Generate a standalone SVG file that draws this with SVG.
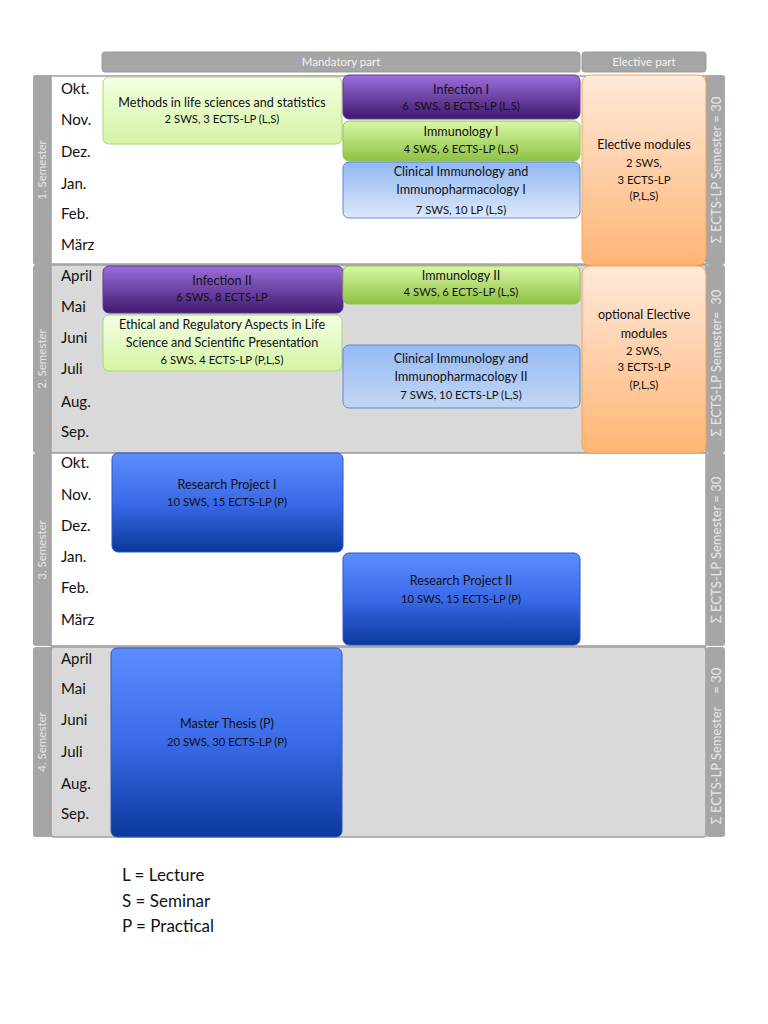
<svg xmlns="http://www.w3.org/2000/svg" width="768" height="1024" viewBox="0 0 768 1024">
<style>
.tab{fill:#a6a6a6;}
.hdr{fill:#a6a6a6;stroke:#999;stroke-width:1;}
.hdrt{font-family:Lato,"Liberation Sans",sans-serif;font-size:11.5px;fill:#f2f2f2;text-anchor:middle;}
.tabt{font-family:Lato,"Liberation Sans",sans-serif;font-size:11.5px;fill:#e6e6e6;text-anchor:middle;}
.tabr{font-family:Lato,"Liberation Sans",sans-serif;font-size:13px;fill:#e6e6e6;text-anchor:middle;}
.mon{font-family:Lato,"Liberation Sans",sans-serif;font-size:15px;fill:#111;}
.bt{font-family:Lato,"Liberation Sans",sans-serif;font-size:12.6px;fill:#111;text-anchor:middle;}
.bs{font-family:Lato,"Liberation Sans",sans-serif;font-size:11.3px;fill:#111;text-anchor:middle;}
.wt{fill:#fff;stroke:#a0a0a0;stroke-width:1.5;}
.gr{fill:#d9d9d9;stroke:#a0a0a0;stroke-width:1.5;}
.lg{font-family:Lato,"Liberation Sans",sans-serif;font-size:17px;fill:#111;}
</style>
<defs>
<linearGradient id="purple" x1="0" y1="0" x2="0" y2="1"><stop offset="0" stop-color="#9b6fdc"/><stop offset="1" stop-color="#40186e"/></linearGradient>
<linearGradient id="green" x1="0" y1="0" x2="0" y2="1"><stop offset="0" stop-color="#d8f7a6"/><stop offset="1" stop-color="#8fc242"/></linearGradient>
<linearGradient id="lgreen" x1="0" y1="0" x2="0" y2="1"><stop offset="0" stop-color="#f4ffe2"/><stop offset="1" stop-color="#d4f4a4"/></linearGradient>
<linearGradient id="lblue" x1="0" y1="0" x2="0" y2="1"><stop offset="0" stop-color="#92b7f2"/><stop offset="1" stop-color="#dde8fa"/></linearGradient>
<linearGradient id="lblue2" x1="0" y1="0" x2="0" y2="1"><stop offset="0" stop-color="#95baf5"/><stop offset="1" stop-color="#c3d6f3"/></linearGradient>
<linearGradient id="blue" x1="0" y1="0" x2="0" y2="1"><stop offset="0" stop-color="#5b8dff"/><stop offset="0.5" stop-color="#3a6ae8"/><stop offset="1" stop-color="#0a389c"/></linearGradient>
<linearGradient id="orange" x1="0" y1="0" x2="0" y2="1"><stop offset="0" stop-color="#ffe9da"/><stop offset="1" stop-color="#ffb574"/></linearGradient>
</defs>

<g id="header">
<rect class="hdr" x="102" y="52" width="478" height="20" rx="3"/>
<text class="hdrt" x="341" y="66">Mandatory part</text>
<rect class="hdr" x="582" y="52" width="124" height="20" rx="3"/>
<text class="hdrt" x="644" y="66">Elective part</text>
</g>

<g id="semester1">
<rect class="tab" x="33" y="75" width="20" height="190" rx="3"/>
<rect class="wt" x="51" y="76" width="655" height="188"/>
<rect class="tab" x="706" y="75" width="19" height="190" rx="3"/>
<text class="tabt" transform="translate(46,170) rotate(-90)">1. Semester</text>
<text class="tabr" transform="translate(720.5,170) rotate(-90)">Σ ECTS-LP Semester = 30</text>
<text class="mon" x="61" y="94">Okt.</text>
<text class="mon" x="61" y="125">Nov.</text>
<text class="mon" x="61" y="157">Dez.</text>
<text class="mon" x="61" y="189">Jan.</text>
<text class="mon" x="61" y="219">Feb.</text>
<text class="mon" x="61" y="250">März</text>
</g>

<g id="semester2">
<rect class="tab" x="33" y="265" width="20" height="188" rx="3"/>
<rect class="gr" x="51" y="265" width="655" height="188"/>
<rect class="tab" x="706" y="265" width="19" height="188" rx="3"/>
<text class="tabt" transform="translate(46,359) rotate(-90)">2. Semester</text>
<text class="tabr" transform="translate(720.5,363) rotate(-90)" xml:space="preserve">Σ ECTS-LP Semester=  30</text>
<text class="mon" x="61" y="281">April</text>
<text class="mon" x="61" y="312">Mai</text>
<text class="mon" x="61" y="343">Juni</text>
<text class="mon" x="61" y="374">Juli</text>
<text class="mon" x="61" y="407">Aug.</text>
<text class="mon" x="61" y="437">Sep.</text>
</g>

<g id="semester3">
<rect class="tab" x="33" y="453" width="20" height="193" rx="3"/>
<rect class="wt" x="51" y="453" width="655" height="193"/>
<rect class="tab" x="706" y="453" width="19" height="193" rx="3"/>
<text class="tabt" transform="translate(46,550) rotate(-90)">3. Semester</text>
<text class="tabr" transform="translate(720.5,550) rotate(-90)">Σ ECTS-LP Semester = 30</text>
<text class="mon" x="61" y="468">Okt.</text>
<text class="mon" x="61" y="500">Nov.</text>
<text class="mon" x="61" y="531">Dez.</text>
<text class="mon" x="61" y="562">Jan.</text>
<text class="mon" x="61" y="593">Feb.</text>
<text class="mon" x="61" y="625">März</text>
</g>

<g id="semester4">
<rect class="tab" x="33" y="647" width="20" height="190" rx="3"/>
<rect class="gr" x="51" y="647" width="655" height="190" rx="3"/>
<rect class="tab" x="706" y="647" width="19" height="190" rx="3"/>
<text class="tabt" transform="translate(46,742) rotate(-90)">4. Semester</text>
<text class="tabr" transform="translate(720.5,746) rotate(-90)" xml:space="preserve">Σ ECTS-LP Semester    = 30</text>
<text class="mon" x="61" y="664">April</text>
<text class="mon" x="61" y="694">Mai</text>
<text class="mon" x="61" y="725">Juni</text>
<text class="mon" x="61" y="757">Juli</text>
<text class="mon" x="61" y="789">Aug.</text>
<text class="mon" x="61" y="819">Sep.</text>
</g>

<g id="methods">
<rect x="103" y="77" width="239" height="67" rx="6" fill="url(#lgreen)" stroke="#a6d876"/>
<text class="bt" x="222" y="107">Methods in life sciences and statistics</text>
<text class="bs" x="222" y="123">2 SWS, 3 ECTS-LP (L,S)</text>
</g>
<g id="infection1">
<rect x="343" y="75" width="237" height="44" rx="6" fill="url(#purple)" stroke="#5a3a90"/>
<text class="bt" x="461" y="94">Infection I</text>
<text class="bs" x="461" y="110" xml:space="preserve">6  SWS, 8 ECTS-LP (L,S)</text>
</g>
<g id="immunology1">
<rect x="343" y="121" width="237" height="40" rx="6" fill="url(#green)" stroke="#92c452"/>
<text class="bt" x="461" y="136">Immunology I</text>
<text class="bs" x="461" y="153">4 SWS, 6 ECTS-LP (L,S)</text>
</g>
<g id="clinical1">
<rect x="343" y="162" width="237" height="56" rx="6" fill="url(#lblue)" stroke="#5b8ad2"/>
<text class="bt" x="461" y="176">Clinical Immunology and</text>
<text class="bt" x="461" y="194">Immunopharmacology I</text>
<text class="bs" x="461" y="214">7 SWS, 10 LP (L,S)</text>
</g>
<g id="elective1">
<rect x="582" y="75" width="124" height="190" rx="8" fill="url(#orange)" stroke="#f6a25a"/>
<text class="bt" x="644" y="149">Elective modules</text>
<text class="bs" x="644" y="167">2 SWS,</text>
<text class="bs" x="644" y="184">3 ECTS-LP</text>
<text class="bs" x="644" y="200">(P,L,S)</text>
</g>
<g id="infection2">
<rect x="103" y="266" width="240" height="47" rx="6" fill="url(#purple)" stroke="#5a3a90"/>
<text class="bt" x="222" y="285">Infection II</text>
<text class="bs" x="222" y="301">6 SWS, 8 ECTS-LP</text>
</g>
<g id="ethical">
<rect x="103" y="315" width="239" height="56" rx="6" fill="url(#lgreen)" stroke="#a6d876"/>
<text class="bt" x="222" y="329">Ethical and Regulatory Aspects in Life</text>
<text class="bt" x="222" y="347">Science and Scientific Presentation</text>
<text class="bs" x="222" y="364">6 SWS, 4 ECTS-LP (P,L,S)</text>
</g>
<g id="immunology2">
<rect x="343" y="266" width="237" height="38" rx="6" fill="url(#green)" stroke="#92c452"/>
<text class="bt" x="461" y="280">Immunology II</text>
<text class="bs" x="461" y="296">4 SWS, 6 ECTS-LP (L,S)</text>
</g>
<g id="clinical2">
<rect x="343" y="345" width="237" height="63" rx="6" fill="url(#lblue2)" stroke="#5b8ad2"/>
<text class="bt" x="461" y="363">Clinical Immunology and</text>
<text class="bt" x="461" y="381">Immunopharmacology II</text>
<text class="bs" x="461" y="399">7 SWS, 10 ECTS-LP (L,S)</text>
</g>
<g id="elective2">
<rect x="582" y="266" width="124" height="187" rx="8" fill="url(#orange)" stroke="#f6a25a"/>
<text class="bt" x="644" y="319">optional Elective</text>
<text class="bt" x="644" y="338">modules</text>
<text class="bs" x="644" y="355">2 SWS,</text>
<text class="bs" x="644" y="371">3 ECTS-LP</text>
<text class="bs" x="644" y="389">(P,L,S)</text>
</g>
<g id="research1">
<rect x="112" y="453" width="231" height="99" rx="6" fill="url(#blue)" stroke="#2c58c0"/>
<text class="bt" x="227" y="489">Research Project I</text>
<text class="bs" x="227" y="506">10 SWS, 15 ECTS-LP (P)</text>
</g>
<g id="research2">
<rect x="343" y="553" width="237" height="92" rx="6" fill="url(#blue)" stroke="#2c58c0"/>
<text class="bt" x="461" y="585">Research Project II</text>
<text class="bs" x="461" y="603">10 SWS, 15 ECTS-LP (P)</text>
</g>
<g id="thesis">
<rect x="111" y="648" width="231" height="189" rx="6" fill="url(#blue)" stroke="#2c58c0"/>
<text class="bt" x="227" y="728">Master Thesis (P)</text>
<text class="bs" x="227" y="746">20 SWS, 30 ECTS-LP (P)</text>
</g>

<g id="connectors"></g>

<g id="legend">
<text class="lg" x="122" y="881">L = Lecture</text>
<text class="lg" x="122" y="907">S = Seminar</text>
<text class="lg" x="122" y="932">P = Practical</text>
</g>
</svg>
